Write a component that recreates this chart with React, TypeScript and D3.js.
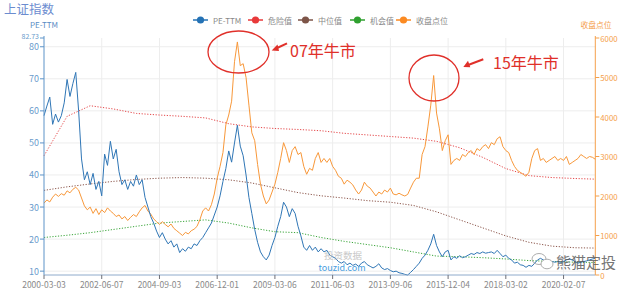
import React from 'react';
import * as d3 from 'd3';

const peValues = [
  58.5, 61.5, 64.3, 55.8, 59.0, 56.5, 58.5, 62.5, 69.8, 64.5,
  68.5, 72.0, 60.0, 45.0, 38.5, 41.0, 37.0, 40.5, 35.5, 38.0,
  33.5, 46.5, 43.0, 50.5, 45.0, 48.0, 41.0, 37.0, 38.5, 35.5,
  38.0, 36.5, 40.0, 37.0, 38.5, 33.0, 30.0, 27.0, 25.0, 22.5,
  20.5, 22.0, 20.0, 18.5, 19.5, 17.5, 18.5, 15.8, 17.0, 16.2,
  17.5, 17.0, 18.5, 18.0, 19.5, 20.5, 22.0, 23.5, 25.0, 27.5,
  30.0, 33.5, 38.0, 42.0, 47.5, 44.0, 50.0, 55.5, 49.0, 46.0,
  40.0, 33.0, 28.0, 23.0, 19.0, 16.0, 14.5, 13.5, 15.0, 18.0,
  20.5, 24.0, 27.0, 31.5, 30.0, 27.0, 29.5, 28.0, 24.0, 21.0,
  17.5, 16.5, 18.0, 16.5, 17.5, 16.0, 17.0, 16.0, 16.5, 15.0,
  14.5, 14.0, 13.0, 12.5, 13.0, 12.0, 12.5, 11.8, 12.2, 11.5,
  12.5, 13.0, 12.0, 11.5, 11.0, 11.5, 12.3, 11.0, 10.5, 10.8,
  10.2, 9.8, 10.0, 9.5, 9.3, 9.0, 8.8, 9.6, 10.5, 11.5,
  12.5, 14.0, 15.0, 16.5, 18.5, 21.5, 18.0, 16.0, 14.5, 16.0,
  16.5, 13.5, 14.5, 14.0, 14.8, 14.2, 14.5, 15.0, 15.5, 15.2,
  15.8, 15.5, 16.0, 15.6, 15.8, 16.0, 15.5, 16.5, 15.5, 14.5,
  15.0, 14.0, 13.5, 12.5, 12.8, 12.0, 11.8, 11.2, 11.8, 11.5,
  12.5, 13.5, 14.0, 13.5, 13.0, 12.8, 13.0, 12.8, 13.0, 12.7,
  13.0, 13.5, 13.8, 13.5, 13.0, 12.5, 12.8, 13.0, 13.2, 13.5,
  13.8, 14.0,
];

const closeValues = [
  1820, 1900, 1850, 1970, 2050, 1990, 2060, 2020, 2130, 2080,
  2170, 2220, 2150, 1950, 1750, 1650, 1720, 1560, 1680, 1530,
  1650, 1580, 1700, 1620, 1560, 1480, 1520, 1420, 1480, 1380,
  1460, 1530, 1480, 1600, 1700, 1760, 1620, 1540, 1420, 1350,
  1280, 1350, 1280, 1220, 1290, 1180, 1120, 1060, 1000, 1080,
  1040, 1120, 1160, 1230, 1400, 1620, 1700, 1620, 1780, 2050,
  2450, 2750, 3100, 3800, 4050, 4400, 5400, 5900, 5300, 5350,
  5000, 4300, 3600, 3400, 2800, 2300, 2000, 1800, 1900, 2100,
  2300, 2600, 2950, 3350, 3150, 2850, 3150, 3250, 3050, 3100,
  2750, 2550, 2700, 2650, 2950, 3100, 2850, 2950, 2850, 2950,
  2750, 2650, 2500, 2450, 2300, 2400, 2350, 2280, 2150, 2050,
  2150, 2350, 2250, 2200, 2100, 2000, 2100, 2050, 2150, 2100,
  2200, 2050, 2030, 2070, 2030, 2000, 2040, 2200, 2350, 2450,
  2450, 3050, 3250, 3750, 4300, 5050, 4100, 3700, 3150, 3400,
  3550, 2800, 2900, 2950, 2900, 3050, 3000, 3100, 3150, 3050,
  3200, 3150, 3250, 3300, 3200, 3350, 3300, 3450, 3500, 3250,
  3150, 3100, 2900, 2750, 2650, 2600, 2550, 2500, 2600, 2950,
  3150, 3200, 2900, 2950, 2850, 2900, 2950, 3000, 2900, 2950,
  2900, 3000, 2800, 2850, 2900, 2950, 3050, 3000, 2950, 3000,
  2980, 2930,
];

const refIndex = [0, 8, 16, 24, 32, 40, 48, 56, 64, 72, 80, 88, 96, 104, 112, 120, 128, 136, 144, 152, 160, 168, 176, 184, 191];
const dangerValues = [46.0, 58.3, 61.6, 60.6, 59.2, 58.7, 58.3, 57.8, 56.0, 55.0, 54.5, 54.2, 53.8, 53.0, 52.5, 52.0, 51.5, 50.5, 48.5, 45.5, 42.0, 39.8, 39.2, 38.9, 38.7];
const medianValues = [35.2, 36.3, 37.2, 38.0, 38.6, 39.0, 39.2, 39.0, 38.5, 37.5, 36.0, 34.5, 33.5, 32.8, 32.0, 31.5, 30.5, 28.5, 26.0, 23.5, 21.0, 19.0, 17.8, 17.3, 17.2];
const chanceValues = [20.5, 21.2, 22.0, 23.0, 24.0, 25.0, 25.5, 26.0, 25.0, 23.5, 22.3, 22.0, 20.5, 19.3, 18.3, 17.3, 16.0, 14.7, 14.5, 14.2, 13.8, 13.3, 13.0, 12.8, 12.7];

const xTickLabels = ['2000-03-03', '2002-06-07', '2004-09-03', '2006-12-01', '2009-03-06', '2011-06-03', '2013-09-06', '2015-12-04', '2018-03-02', '2020-02-07'];
const xTickStep = 20;
const peTicks = [10, 20, 30, 40, 50, 60, 70, 80];
const peDomain = [8.8, 82.73];
const closeTicks = [0, 1000, 2000, 3000, 4000, 5000, 6000];
const closeDomain = [0, 6000];
const legendNames = ['PE-TTM', '危险值', '中位值', '机会值', '收盘点位'];
const legendColors = ['#2472b5', '#e8393a', '#7d5548', '#2fa02f', '#fb8a22'];
const legendX = [193, 248, 298, 350, 396];

const FONT = '"Noto Sans CJK SC", "Noto Sans", sans-serif';

export default function App() {
  const left = 44, right = 595.3, top = 38, bottom = 275;
  const x = d3.scaleLinear().domain([0, peValues.length - 1]).range([left, right]);
  const yL = d3.scaleLinear().domain(peDomain).range([bottom, top]);
  const yR = d3.scaleLinear().domain(closeDomain).range([bottom, top]);

  const peLine = d3.line<number>().x((_, i) => x(i)).y((d) => yL(d))(peValues) || '';
  const closeLine = d3.line<number>().x((_, i) => x(i)).y((d) => yR(d))(closeValues) || '';
  const refLine = (vals: number[]) =>
    d3.line<number>().x((_, i) => x(refIndex[i])).y((d) => yL(d))(vals) || '';

  const xTicks = xTickLabels.map((lab, k) => ({ lab, px: x(k * xTickStep) }));

  return (
    <svg width={640} height={290} style={{ position: 'absolute', left: 0, top: 0, fontFamily: FONT }}>
      <rect width={640} height={290} fill="#fff" />
      {peTicks.map((t) => (
        <line key={'gh' + t} x1={left} x2={right} y1={yL(t)} y2={yL(t)} stroke="#ededed" strokeWidth={1} />
      ))}
      {xTicks.slice(1).map((t) => (
        <line key={'gv' + t.lab} x1={t.px} x2={t.px} y1={top} y2={bottom} stroke="#ededed" strokeWidth={1} />
      ))}

      <path d={refLine(dangerValues)} fill="none" stroke="#e5484a" strokeWidth={1} strokeDasharray="1.2 1.6" />
      <path d={refLine(medianValues)} fill="none" stroke="#8c564b" strokeWidth={1} strokeDasharray="1.2 1.6" />
      <path d={refLine(chanceValues)} fill="none" stroke="#3aa63a" strokeWidth={1} strokeDasharray="1.2 1.6" />

      <path d={closeLine} fill="none" stroke="#f8983a" strokeWidth={1} />
      <path d={peLine} fill="none" stroke="#2f76b6" strokeWidth={1} />

      <line x1={left} x2={left} y1={top - 2} y2={bottom} stroke="#5d93c8" strokeWidth={1} />
      {peTicks.map((t) => (
        <g key={'yl' + t}>
          <line x1={left - 4} x2={left} y1={yL(t)} y2={yL(t)} stroke="#5d93c8" />
          <text x={left - 5} y={yL(t)} textAnchor="end" dominantBaseline="central" fontSize={9} fill="#6a9ccc">{t}</text>
        </g>
      ))}
      <line x1={left - 4} x2={left} y1={yL(peDomain[1])} y2={yL(peDomain[1])} stroke="#5d93c8" />
      <text x={left - 5} y={yL(peDomain[1]) - 2} textAnchor="end" dominantBaseline="central" fontSize={7} fill="#6a9ccc">{peDomain[1]}</text>
      <text x={44} y={24.5} textAnchor="middle" dominantBaseline="central" fontSize={8} fill="#5a8cc4">PE-TTM</text>

      <line x1={right} x2={right} y1={top - 2} y2={bottom} stroke="#f5a04b" strokeWidth={1} />
      {closeTicks.map((t) => (
        <g key={'yr' + t}>
          <line x1={right} x2={right + 4} y1={yR(t)} y2={yR(t)} stroke="#f5a04b" />
          <text x={right + 5} y={yR(t)} textAnchor="start" dominantBaseline="central" fontSize={7.8} fill="#f5a04b">{t}</text>
        </g>
      ))}
      <text x={596} y={24.5} textAnchor="middle" dominantBaseline="central" fontSize={7.8} fill="#f5a04b">收盘点位</text>

      <line x1={left} x2={right} y1={bottom} y2={bottom} stroke="#8eaacb" strokeWidth={1} />
      {xTicks.map((t) => (
        <g key={'xt' + t.lab}>
          <line x1={t.px} x2={t.px} y1={bottom} y2={bottom + 4} stroke="#6e7079" />
          <text x={t.px} y={283.5} textAnchor="middle" dominantBaseline="central" fontSize={8.5} fill="#8a8a8a">{t.lab}</text>
        </g>
      ))}

      <text x={4} y={8} dominantBaseline="central" fontSize={12.5} fill="#6b8ccf">上证指数</text>

      {legendNames.map((n, i) => (
        <g key={'lg' + n}>
          <line x1={legendX[i]} x2={legendX[i] + 15} y1={20} y2={20} stroke={legendColors[i]} strokeWidth={1.5} />
          <circle cx={legendX[i] + 7.5} cy={20} r={3.6} fill={legendColors[i]} />
          <text x={legendX[i] + 20} y={20} dominantBaseline="central" fontSize={8} fill="#888">{n}</text>
        </g>
      ))}

      <ellipse cx={238.5} cy={52} rx={30.5} ry={21} fill="none" stroke="#e0302a" strokeWidth={1.3} />
      <line x1={287} y1={43.3} x2={276} y2={48.5} stroke="#e0302a" strokeWidth={2} />
      <polygon points="271.7,50.5 277.5,44.5 279,51" fill="#e0302a" />
      <text x={290} y={50} dominantBaseline="central" fontSize={16} fill="#e0302a">07年牛市</text>

      <ellipse cx={434} cy={78} rx={25} ry={23} fill="none" stroke="#e0302a" strokeWidth={1.3} />
      <line x1={483.3} y1={59.3} x2={467.5} y2={65.2} stroke="#e0302a" strokeWidth={2} />
      <polygon points="463.3,66.9 468,60.8 470.3,67.2" fill="#e0302a" />
      <text x={493} y={62} dominantBaseline="central" fontSize={16} fill="#e0302a">15年牛市</text>

      <text x={343} y={255} textAnchor="middle" dominantBaseline="central" fontSize={9.5} fill="#bbb" opacity={0.8}>投资数据</text>
      <text x={342} y={267} textAnchor="middle" dominantBaseline="central" fontSize={9} fill="#4a9ee0">touzid.com</text>
      <ellipse cx={539} cy={259} rx={7} ry={5.5} fill="none" stroke="#999" strokeWidth={0.8} />
      <ellipse cx={547} cy={264} rx={6} ry={4.8} fill="#fff" stroke="#999" strokeWidth={0.8} />
      <text x={586} y={261} textAnchor="middle" dominantBaseline="central" fontSize={15} fill="#555" opacity={0.8}>熊猫定投</text>
    </svg>
  );
}
